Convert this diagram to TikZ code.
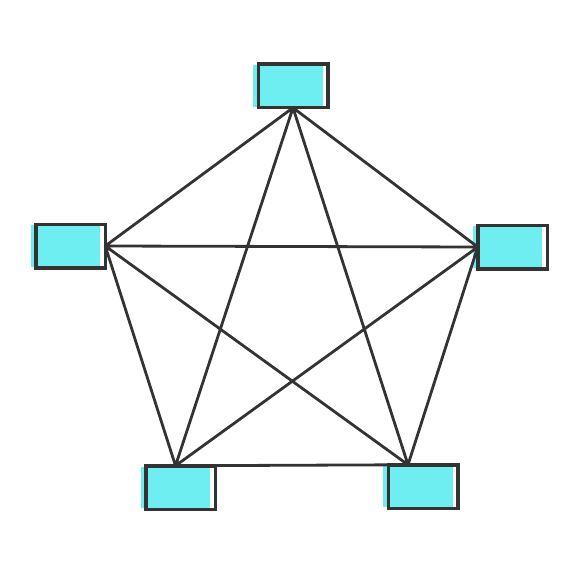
\documentclass[tikz,border=0pt]{standalone}
\definecolor{boxcyan}{RGB}{110,238,240}
\definecolor{ink}{RGB}{51,51,51}
\tikzset{
  netbox/.style={draw=ink, line width=3.5pt, minimum width=66pt, minimum height=40pt, inner sep=0pt},
  link/.style={draw=ink, line width=2.8pt, line cap=round, line join=round},
}
\begin{document}
\begin{tikzpicture}[x=1pt,y=-1pt]
\useasboundingbox (0,0) rectangle (576,577);
% node placeholders (invisible) to get anchors
\path
  node[netbox, draw=none] (t)  at (293,86) {}
  node[netbox, draw=none] (l)  at (70.5,246) {}
  node[netbox, draw=none] (r)  at (512.5,247) {}
  node[netbox, draw=none] (bl) at (180.5,487.5) {}
  node[netbox, draw=none] (br) at (423,486.5) {};
% cyan fills, offset to the left
\foreach \n in {t,l,r,bl,br}{
  \fill[boxcyan] ([shift={(-5,1)}]\n.north west) rectangle ([shift={(-5,-1)}]\n.south east);
}
% link end points
\coordinate (pt) at (t.south);
\coordinate (pl) at (l.east);
\coordinate (pr) at (r.west);
\coordinate (pbl) at ([xshift=-5pt]bl.north);
\coordinate (pbr) at ([xshift=-15pt]br.north);
\draw[link] (pt) -- (pl) (pt) -- (pr) (pt) -- (pbl) (pt) -- (pbr)
            (pl) -- (pr) (pl) -- (pbl) (pl) -- (pbr)
            (pr) -- (pbl) (pr) -- (pbr)
            (pbl) -- (pbr);
% box outlines
\foreach \n in {t,l,r,bl,br}{
  \draw[ink, line width=3.5pt] (\n.north west) rectangle (\n.south east);
}
\end{tikzpicture}
\end{document}
